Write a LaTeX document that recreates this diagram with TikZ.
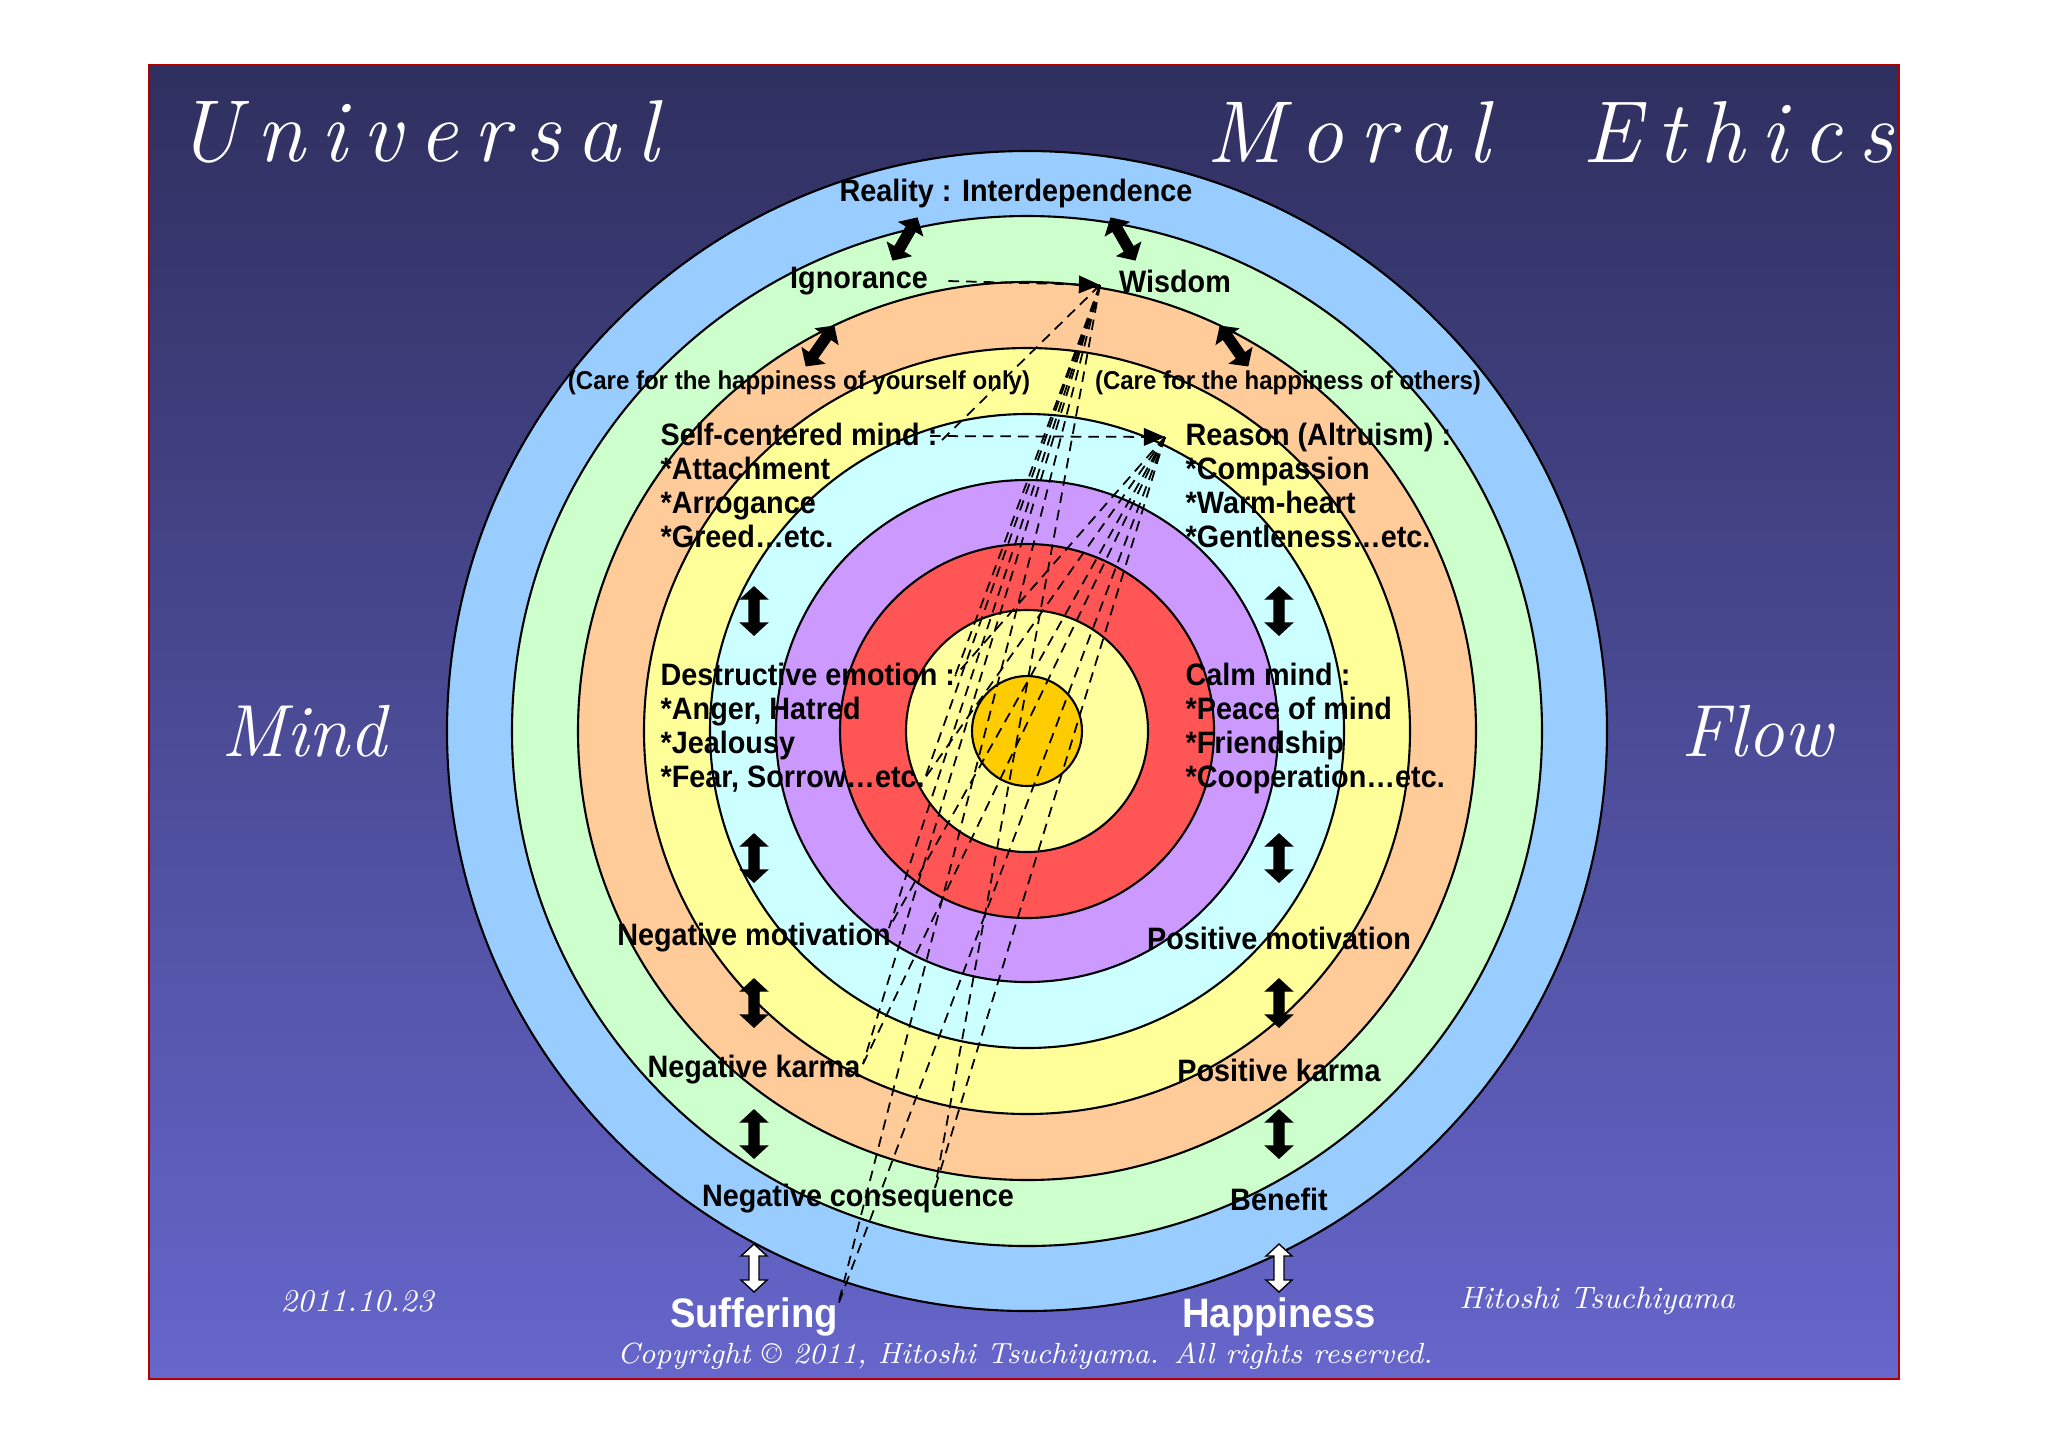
\documentclass[tikz,border=0pt]{standalone}
\usepackage{fontspec}
\setmainfont{Latin Modern Roman}
\newfontfamily\lab{Liberation Sans}[FakeStretch=0.93]
\newfontfamily\ttl{Latin Modern Roman}[LetterSpace=18]
\usetikzlibrary{arrows.meta}
\definecolor{bgtop}{HTML}{2F2F5F}
\definecolor{bgbot}{HTML}{6666CC}
\definecolor{cBlue}{HTML}{99CCFF}
\definecolor{cGreen}{HTML}{CCFFCC}
\definecolor{cOrange}{HTML}{FFCC99}
\definecolor{cYellow}{HTML}{FFFF99}
\definecolor{cCyan}{HTML}{CCFFFF}
\definecolor{cPurple}{HTML}{CC99FF}
\definecolor{cRed}{HTML}{FF5555}
\definecolor{cPale}{HTML}{FFFFA0}
\definecolor{cCore}{HTML}{FFCC00}
\begin{document}
\begin{tikzpicture}[x=0.01cm,y=-0.01cm,
  ring/.style={draw=black,line width=0.6pt},
  lb/.style={font=\lab\bfseries\fontsize{8.8}{9.7}\selectfont,inner sep=0pt,text=black},
  lbl/.style={lb,align=left,anchor=north west},
  care/.style={font=\lab\bfseries\fontsize{7.35}{8}\selectfont,inner sep=0pt},
  big/.style={font=\lab\bfseries\fontsize{11.7}{12}\selectfont,inner sep=0pt,text=white},
  wit/.style={font=\itshape\fontsize{#1}{#1}\selectfont,text=white,inner sep=0pt},
  dl/.style={dashed,line width=0.5pt,dash pattern=on 3pt off 2pt},
  ar/.style={dl,-{Triangle[length=6pt,width=5pt]}},
  pics/dbl/.style={code={\filldraw[fill=#1,draw=black,line width=0.4pt]
     (0,24)--(13,12)--(5,12)--(5,-12)--(13,-12)--(0,-24)--(-13,-12)--(-5,-12)--(-5,12)--(-13,12)--cycle;}}]
\useasboundingbox (0,0) rectangle (2048,1447);
\fill[white] (0,0) rectangle (2048,1447);
\shade[top color=bgtop,bottom color=bgbot,draw=red!70!black,line width=0.6pt] (149,65) rectangle (1899,1379);
% rings
\coordinate (c) at (1027,731);
\foreach \r/\col in {580/cBlue,515/cGreen,449/cOrange,383/cYellow,317/cCyan,251/cPurple,187/cRed,121/cPale,55/cCore}
  \filldraw[ring,fill=\col] (c) circle[radius=\r];
% titles
\node[wit=25,anchor=west] (tU) at (176,132) {\ttl\itshape Universal};
\node[wit=25,anchor=east] (tM) at (1894,132) {\ttl\itshape Moral\ \ Ethics};
\node[wit=21] (mind) at (304,731) {Mind};
\node[wit=21] (flow) at (1757,731) {Flow};
\node[wit=9] (date) at (357,1301) {2011.10.23};
\node[wit=8.8] (auth) at (1597,1301) {Hitoshi Tsuchiyama};
\node[wit=8.3] (copy) at (1025,1356) {Copyright \textcopyright\ 2011, Hitoshi Tsuchiyama. All rights reserved.};
% labels
\node[lb] (real) at (1016,193) {Reality : Interdependence};
\node[lb] (ign) at (859,281) {Ignorance};
\node[lb] (wis) at (1175,281) {Wisdom};
\coordinate (W) at (1100,285);
\coordinate (R) at (1165,437);
\node[care] (care1) at (799,383) {(Care for the happiness of yourself only)};
\node[care] (care2) at (1288,383) {(Care for the happiness of others)};
\node[lbl] (self) at (660,422) {Self-centered mind :\\*Attachment\\*Arrogance\\*Greed\dots etc.};
\node[lbl] (reas) at (1185,422) {Reason (Altruism) :\\*Compassion\\*Warm-heart\\*Gentleness\dots etc.};
\node[lbl] (dest) at (660,662) {Destructive emotion :\\*Anger, Hatred\\*Jealousy\\*Fear, Sorrow\dots etc.};
\node[lbl] (calm) at (1185,662) {Calm mind :\\*Peace of mind\\*Friendship\\*Cooperation\dots etc.};
\node[lb] (nm) at (754,938) {Negative motivation};
\node[lb] (pm) at (1279,938) {Positive motivation};
\node[lb] (nk) at (754,1070) {Negative karma};
\node[lb] (pk) at (1279,1070) {Positive karma};
\node[lb] (nc) at (858,1199) {Negative consequence};
\node[lb] (ben) at (1279,1199) {Benefit};
\node[big] (suf) at (754,1317) {Suffering};
\node[big] (hap) at (1279,1317) {Happiness};
% arrows
\foreach \x in {754,1279}{
  \foreach \y in {611,858,1003,1134} \pic at (\x,\y) {dbl=black};
  \pic at (\x,1268) {dbl=white};}
\pic[rotate=-30] at (905,239) {dbl=black};
\pic[rotate=30] at (1123,239) {dbl=black};
\pic[rotate=-35] at (820,346) {dbl=black};
\pic[rotate=35] at (1234,346) {dbl=black};
% dashed connectors
\draw[ar] (ign.east) ++(20,0) -- (W);
\draw[ar] (self.north east) ++(-8,14) -- (R);
\coordinate (e1) at (942,440);
\coordinate (e2) at (955,676);
\coordinate (e3) at (925,778);
\coordinate (e4) at (889,928);
\coordinate (e5) at (863,1064);
\coordinate (e6) at (935,1188);
\coordinate (e7) at (838,1305);
\foreach \e in {e1,e2,e3,e4,e5,e6,e7} \draw[dl] (W) -- (\e);
\foreach \e in {e2,e3,e4,e5,e6,e7} \draw[dl] (R) -- (\e);
\end{tikzpicture}
\end{document}
